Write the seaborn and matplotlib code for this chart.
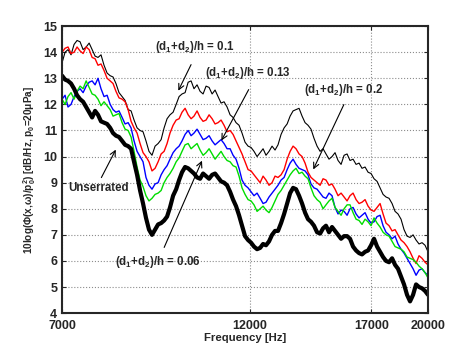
import numpy as np
import pandas as pd
import matplotlib
matplotlib.use("Agg")
import matplotlib.pyplot as plt
from matplotlib.ticker import NullLocator, FixedLocator, FixedFormatter
import seaborn as sns

# frequency points (Hz)
freq = [7000, 7120, 7245, 7370, 7500, 7630, 7760, 7895, 8035, 8170,
        8315, 8460, 8605, 8755, 8905, 9060, 9220, 9380, 9540, 9710,
        9875, 10050, 10220, 10400, 10580, 10765, 10950, 11140, 11335, 11530,
        11730, 11935, 12140, 12355, 12565, 12785, 13005, 13235, 13465, 13695,
        13935, 14175, 14420, 14675, 14925, 15185, 15450, 15720, 15990, 16270,
        16550, 16840, 17130, 17430, 17730, 18040, 18350, 18670, 18995, 19325,
        19660, 20000]
# in-between frequency points (the wiggles)
freq_mid = [7060, 7182, 7307, 7435, 7565, 7695, 7827, 7965, 8102, 8242,
            8387, 8532, 8680, 8830, 8982, 9140, 9300, 9460, 9625, 9792,
            9962, 10135, 10310, 10490, 10672, 10857, 11045, 11237, 11432, 11630,
            11832, 12037, 12247, 12460, 12675, 12895, 13120, 13350, 13580, 13815,
            14055, 14297, 14547, 14800, 15055, 15317, 15585, 15855, 16130, 16410,
            16695, 16985, 17280, 17580, 17885, 18195, 18510, 18832, 19160, 19492,
            19830]

# 10log(Phi/p0^2), (d1+d2)/h = 0.1
h010 = [13.6, 14.1, 14.3, 14.4, 14.2, 14.1, 13.8, 13.5, 13.1, 12.8,
        12.3, 11.8, 11.4, 11.0, 10.6, 10.05, 10.5, 11.1, 11.6, 12.0,
        12.4, 12.85, 12.6, 12.5, 12.7, 12.4, 12.3, 12.1, 11.6, 11.3,
        10.9, 10.4, 10.2, 10.15, 10.05, 10.4, 10.45, 11.1, 11.55, 11.8,
        11.55, 11.2, 10.7, 10.2, 10.1, 10.0, 9.85, 10.05, 9.85, 9.7,
        9.55, 9.4, 9.15, 8.8, 8.45, 8.2, 7.8, 7.2, 6.9, 6.8,
        6.7, 6.35]
h010_mid = [14.0, 13.9, 14.45, 14.1, 14.35, 13.85, 13.9, 13.2, 13.05, 12.45,
            12.15, 11.75, 11.1, 10.95, 10.2, 10.4, 10.65, 11.45, 11.7, 12.3,
            12.45, 12.9, 12.75, 12.4, 12.65, 12.55, 12.05, 11.9, 11.5, 11.2,
            10.55, 10.35, 10.0, 10.3, 10.2, 10.25, 10.85, 11.25, 11.75, 11.85,
            11.3, 11.05, 10.4, 10.3, 9.9, 10.15, 9.7, 10.1, 9.9, 9.75,
            9.6, 9.35, 9.05, 8.55, 8.4, 7.9, 7.6, 6.95, 7.0, 6.65,
            6.6]

# (d1+d2)/h = 0.13
h013 = [14.0, 14.2, 14.0, 14.05, 14.2, 13.8, 13.5, 13.3, 12.9, 12.5,
        12.2, 11.8, 11.1, 10.5, 10.0, 9.45, 9.8, 10.2, 10.9, 11.4,
        11.7, 11.6, 11.55, 11.5, 11.4, 11.45, 11.3, 11.2, 11.0, 10.6,
        10.1, 9.5, 9.3, 9.0, 9.1, 9.0, 9.2, 9.5, 10.2, 10.3,
        10.0, 9.4, 9.1, 8.9, 9.1, 8.95, 8.5, 8.45, 8.5, 8.35,
        8.25, 8.1, 7.9, 8.2, 7.45, 7.15, 7.0, 6.7, 6.35, 5.9,
        6.1, 5.85]
h013_mid = [14.15, 13.95, 14.2, 13.95, 14.1, 13.75, 13.55, 13.0, 12.8, 12.25,
            12.1, 11.35, 10.9, 10.15, 9.8, 9.55, 10.1, 10.5, 11.2, 11.45,
            11.85, 11.45, 11.75, 11.35, 11.6, 11.25, 11.4, 10.95, 10.85, 10.35,
            9.8, 9.45, 9.15, 9.25, 8.9, 9.25, 9.3, 9.9, 10.4, 10.1,
            9.75, 9.2, 9.0, 9.15, 8.9, 8.75, 8.6, 8.3, 8.6, 8.2,
            8.35, 7.95, 8.05, 7.8, 7.35, 7.2, 6.8, 6.55, 6.1, 6.2,
            5.95]

# (d1+d2)/h = 0.2
h020 = [12.2, 11.9, 12.3, 12.6, 12.7, 12.9, 13.0, 12.3, 12.0, 11.7,
        11.5, 11.3, 10.6, 10.0, 9.2, 8.75, 9.0, 9.5, 9.9, 10.3,
        10.6, 11.0, 10.9, 10.85, 10.7, 10.6, 10.55, 10.5, 10.3, 9.9,
        9.1, 8.8, 8.5, 8.4, 8.25, 8.6, 8.9, 9.2, 9.75, 9.7,
        9.5, 9.3, 8.8, 8.6, 8.4, 8.5, 7.8, 7.9, 8.0, 7.8,
        7.75, 7.6, 7.5, 7.75, 7.1, 6.85, 6.65, 6.3, 5.9, 5.45,
        5.7, 5.45]
h020_mid = [12.35, 12.0, 12.5, 12.45, 12.85, 12.75, 12.6, 12.35, 11.8, 11.75,
            11.25, 11.1, 10.2, 9.8, 8.9, 8.95, 9.3, 9.65, 10.15, 10.4,
            10.85, 10.8, 11.05, 10.65, 10.8, 10.45, 10.65, 10.3, 10.05, 9.55,
            8.9, 8.65, 8.6, 8.2, 8.45, 8.75, 9.1, 9.5, 9.9, 9.55,
            9.45, 8.95, 8.75, 8.45, 8.6, 8.05, 7.95, 7.75, 8.05, 7.65,
            7.85, 7.45, 7.7, 7.35, 7.0, 6.95, 6.45, 6.1, 5.7, 5.65,
            5.55]

# (d1+d2)/h = 0.06
h006 = [12.2, 12.3, 12.2, 12.7, 12.9, 12.4, 12.2, 12.1, 11.8, 11.6,
        11.3, 11.0, 10.2, 9.1, 8.5, 8.4, 8.6, 9.0, 9.35, 9.8,
        10.2, 10.5, 10.4, 10.25, 10.15, 10.1, 10.05, 10.0, 9.8, 9.6,
        8.8, 8.35, 8.15, 8.0, 7.95, 8.05, 8.55, 8.9, 9.3, 9.55,
        9.4, 9.15, 8.5, 8.25, 8.15, 8.4, 7.9, 8.0, 8.15, 7.6,
        7.4, 7.5, 7.65, 7.3, 7.0, 6.75, 6.5, 6.35, 6.1, 5.95,
        5.7, 5.35]
h006_mid = [12.0, 12.45, 12.5, 12.6, 12.65, 12.35, 11.95, 11.95, 11.55, 11.65,
            11.05, 10.75, 9.6, 8.85, 8.3, 8.55, 8.7, 9.2, 9.55, 9.95,
            10.45, 10.3, 10.5, 10.05, 10.3, 9.9, 10.2, 9.85, 9.65, 9.25,
            8.55, 8.3, 7.9, 8.1, 7.85, 8.3, 8.7, 9.1, 9.45, 9.35,
            9.25, 8.8, 8.35, 8.0, 8.3, 8.05, 7.75, 8.15, 7.85, 7.55,
            7.6, 7.35, 7.45, 7.1, 6.95, 6.55, 6.45, 6.15, 6.05, 5.8,
            5.55]

# unserrated
unserrated = [13.1, 12.9, 12.6, 12.2, 11.9, 11.5, 11.6, 11.3, 11.1, 10.8,
              10.6, 10.4, 9.8, 8.7, 7.65, 7.0, 7.4, 7.55, 8.05, 8.75,
              9.4, 9.55, 9.35, 9.15, 9.25, 9.3, 9.2, 9.0, 8.65, 8.1,
              7.35, 6.8, 6.55, 6.5, 6.6, 7.0, 7.15, 7.8, 8.6, 8.75,
              8.2, 7.6, 7.35, 7.05, 7.35, 7.3, 7.0, 6.95, 6.85, 6.4,
              6.25, 6.4, 6.85, 6.35, 6.0, 6.1, 5.7, 5.1, 4.45, 5.1,
              4.95, 4.7]
unserrated_mid = [12.95, 12.8, 12.35, 12.1, 11.7, 11.75, 11.35, 11.25, 10.9, 10.75,
                  10.45, 10.3, 9.3, 8.2, 7.2, 7.2, 7.45, 7.7, 8.5, 9.1,
                  9.6, 9.45, 9.2, 9.35, 9.15, 9.35, 9.05, 8.9, 8.35, 7.75,
                  6.95, 6.7, 6.45, 6.65, 6.75, 7.15, 7.45, 8.2, 8.8, 8.5,
                  7.85, 7.5, 7.1, 7.25, 7.1, 7.15, 6.85, 6.95, 6.55, 6.3,
                  6.35, 6.6, 6.55, 6.15, 5.95, 5.85, 5.4, 4.7, 4.7, 5.0,
                  4.85]

series = [(h010, h010_mid, "black", 0.8),
          (h013, h013_mid, "red", 1.0),
          (h020, h020_mid, "blue", 1.0),
          (h006, h006_mid, "#00dd00", 1.0),
          (unserrated, unserrated_mid, "black", 3.0)]

sns.set_style("ticks")
plt.rcParams['font.family'] = ['Liberation Sans', 'DejaVu Sans']
plt.rcParams['font.weight'] = 'bold'
plt.rcParams['mathtext.fontset'] = 'custom'
plt.rcParams['mathtext.rm'] = 'Liberation Sans:bold'
plt.rcParams['mathtext.it'] = 'Liberation Sans:bold'
plt.rcParams['mathtext.bf'] = 'Liberation Sans:bold'

fig = plt.figure(figsize=(4.74, 3.53), dpi=100)
ax = fig.add_axes([0.131, 0.113, 0.772, 0.813])

for vals, mids, col, lw in series:
    df = pd.DataFrame({"f": freq + freq_mid, "v": vals + mids}).sort_values("f")
    sns.lineplot(data=df, x="f", y="v", color=col, linewidth=lw, ax=ax,
                 sort=False, estimator=None)

ax.set_xscale("log")
ax.set_xlim(7000, 20000)
ax.set_ylim(4, 15)
ax.xaxis.set_major_locator(FixedLocator([7000, 12000, 17000, 20000]))
ax.xaxis.set_major_formatter(FixedFormatter(["7000", "12000", "17000", "20000"]))
ax.xaxis.set_minor_locator(NullLocator())
ax.set_yticks(range(4, 16))
ax.tick_params(direction="in", top=True, right=True, labelsize=9, length=3)
ax.tick_params(axis="x", pad=5)
for lab in ax.get_xticklabels() + ax.get_yticklabels():
    lab.set_fontweight("bold")
ax.grid(True, linestyle=":", color="0.55", linewidth=0.8)
for sp in ax.spines.values():
    sp.set_linewidth(1.5)

ax.set_xlabel("Frequency [Hz]", fontsize=8.2, fontweight="bold", labelpad=1)
ax.set_ylabel(r"10log($\Phi$(x,$\omega$)/p$_0^2$) [dB/Hz, p$_0$=20$\mu$Pa]",
              fontsize=7.2, fontweight="bold", labelpad=4)

arrow = dict(arrowstyle="->", color="black", lw=0.8)
notes = [("(d$_1$+d$_2$)/h = 0.1", (10250, 14.2), (10170, 13.62), (9736, 12.43)),
         ("(d$_1$+d$_2$)/h = 0.13", (11935, 13.2), (12000, 12.66), (11013, 10.52)),
         ("(d$_1$+d$_2$)/h = 0.2", (15675, 12.55), (15764, 12.09), (14341, 9.41)),
         ("Unserrated", (7762, 8.79), (7806, 9.1), (8196, 10.36)),
         ("(d$_1$+d$_2$)/h = 0.06", (9219, 5.96), (9352, 6.42), (10490, 9.94))]
for txt, pos, tail, head in notes:
    ax.text(pos[0], pos[1], txt, ha="center", va="center", fontsize=8.3,
            fontweight="bold")
    ax.annotate("", xy=head, xytext=tail, arrowprops=arrow)

fig.savefig("out.png", dpi=100)
